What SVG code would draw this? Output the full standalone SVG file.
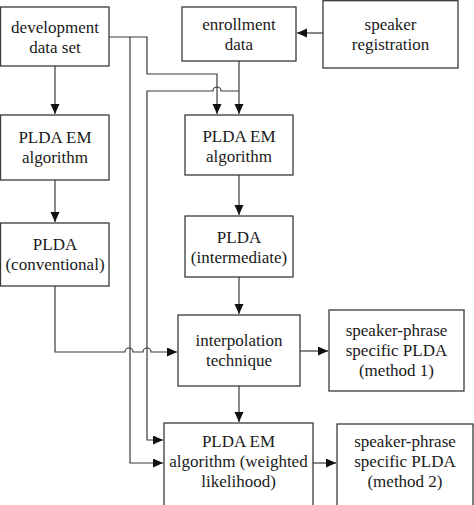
<svg xmlns="http://www.w3.org/2000/svg" width="474" height="505" viewBox="0 0 474 505">
<defs>
<marker id="ah" markerUnits="userSpaceOnUse" markerWidth="11" markerHeight="10" refX="10" refY="4.5" orient="auto">
<path d="M0,0 L10,4.5 L0,9 z" fill="#111"/>
</marker>
</defs>
<style>
rect{fill:#fff;stroke:#3a3a3a;stroke-width:1.3}
text{font-size:17px;fill:#1a1a1a;text-anchor:middle}
.c{fill:none;stroke:#3a3a3a;stroke-width:1.2}
.a{marker-end:url(#ah)}
</style>
<rect x="0" y="0" width="474" height="505" style="fill:#fff;stroke:none"/>
<g id="connectors">
<path class="c a" d="M323,33 H297"/>
<path class="c a" d="M239,61 V114"/>
<path class="c a" d="M109,37 H147 V74 H217 V114"/>
<path class="c a" d="M130,37 V463 H163"/>
<path class="c a" d="M239,91 H221 A4,4 0 0 0 213,91 H147 V440 H163"/>
<path class="c a" d="M55,66 V114"/>
<path class="c a" d="M55,180 V222"/>
<path class="c a" d="M239,175 V215"/>
<path class="c a" d="M239,277 V314"/>
<path class="c a" d="M55,286 V352 H125 A4,4 0 0 1 133,352 H143 A4,4 0 0 1 151,352 H177"/>
<path class="c a" d="M300,351 H328"/>
<path class="c a" d="M239,386 V422"/>
<path class="c a" d="M313,463 H336"/>
</g>
<g font-family="'Liberation Serif', 'DejaVu Serif', serif">
<g id="dev">
<rect x="0.5" y="7" width="108.5" height="59"/>
<text x="55" y="32.5">development</text>
<text x="55" y="52.5">data set</text>
</g>
<g id="enroll">
<rect x="182" y="7" width="114" height="54"/>
<text x="239" y="30">enrollment</text>
<text x="239" y="50">data</text>
</g>
<g id="spkreg">
<rect x="323" y="0.7" width="135" height="67.3"/>
<text x="390.5" y="30">speaker</text>
<text x="390.5" y="50">registration</text>
</g>
<g id="em1">
<rect x="0.5" y="115" width="108.5" height="65"/>
<text x="55" y="143">PLDA EM</text>
<text x="55" y="163">algorithm</text>
</g>
<g id="conv">
<rect x="0.5" y="223" width="108.5" height="63"/>
<text x="55" y="250">PLDA</text>
<text x="55" y="270">(conventional)</text>
</g>
<g id="em2">
<rect x="185" y="115" width="108" height="60"/>
<text x="239" y="141.5">PLDA EM</text>
<text x="239" y="161.5">algorithm</text>
</g>
<g id="inter">
<rect x="185" y="216" width="108" height="61"/>
<text x="239" y="242.5">PLDA</text>
<text x="239" y="262.5">(intermediate)</text>
</g>
<g id="interp">
<rect x="178" y="315" width="122" height="71"/>
<text x="239" y="346">interpolation</text>
<text x="239" y="366">technique</text>
</g>
<g id="m1">
<rect x="329" y="310" width="135" height="81"/>
<text x="396.5" y="336">speaker-phrase</text>
<text x="396.5" y="356">specific PLDA</text>
<text x="396.5" y="376">(method 1)</text>
</g>
<g id="wl">
<rect x="164" y="423" width="149" height="90"/>
<text x="238.5" y="447">PLDA EM</text>
<text x="238.5" y="467">algorithm (weighted</text>
<text x="238.5" y="487">likelihood)</text>
</g>
<g id="m2">
<rect x="337" y="424" width="136" height="90"/>
<text x="405" y="447">speaker-phrase</text>
<text x="405" y="467">specific PLDA</text>
<text x="405" y="487">(method 2)</text>
</g>
</g>
</svg>
